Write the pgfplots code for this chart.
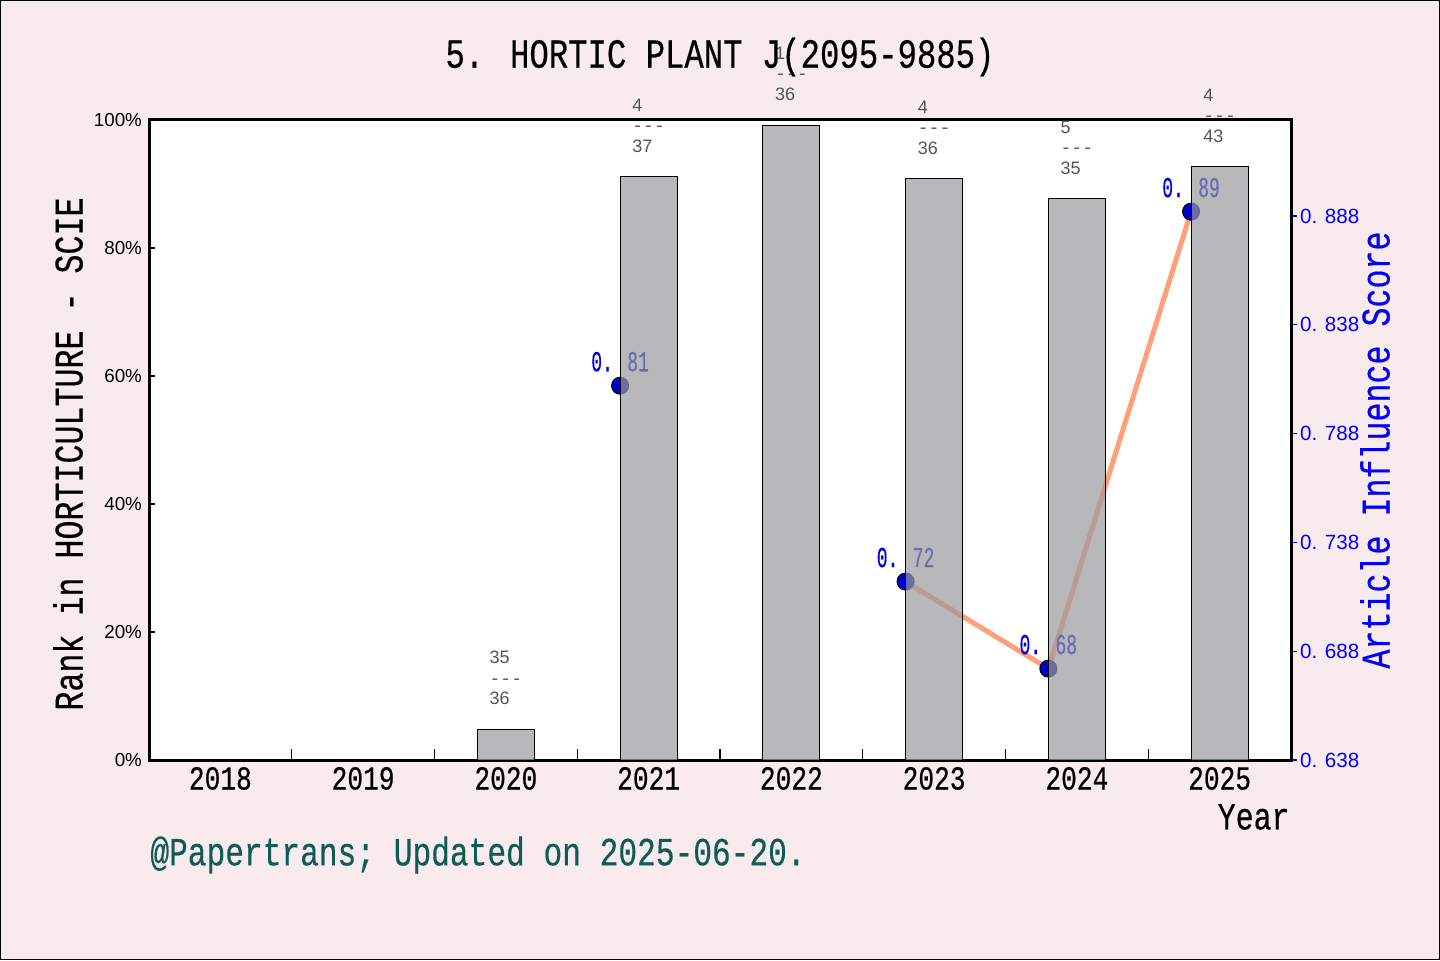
\documentclass[border=0pt]{standalone}
\usepackage{pgfplots}
\pgfplotsset{compat=1.18}
\usepackage{fontspec}
\setmainfont{Liberation Sans}
\newfontfamily\hei[FakeStretch=0.78,FakeBold=0.4]{Liberation Mono}
\newfontfamily\heiN[FakeStretch=0.62,FakeBold=0.3]{Liberation Mono}
\newfontfamily\arial{Liberation Sans}
\newfontfamily\mono{Liberation Mono}
\definecolor{bgpink}{HTML}{F9EAED}
\definecolor{barg}{RGB}{154,155,158}
\definecolor{salmon}{HTML}{FFA07A}
\definecolor{mblue}{HTML}{0000CD}
\definecolor{lblue}{HTML}{0000E6}
\definecolor{teal2}{HTML}{0E5C56}
\definecolor{rkgray}{HTML}{555555}
\protected\def\rk#1#2{{\arial\fontsize{9}{10.25}\selectfont\color{rkgray}\begin{tabular}{@{}l@{}}#1\\{\mono -\kern0pt-\kern0pt-}\\#2\end{tabular}}}
\begin{document}
\begin{tikzpicture}
\useasboundingbox (0,0) rectangle (720pt,480pt);
\fill[bgpink] (0,0) rectangle (720pt,480pt);
\draw[black, line width=0.6pt] (0.3pt,0.3pt) rectangle (719.7pt,479.7pt);
% line axis (behind)
\begin{axis}[
  at={(74.5pt,100pt)}, anchor=south west, scale only axis,
  width=571pt, height=320pt,
  xmin=-0.5, xmax=7.5, ymin=0.638, ymax=0.9321,
  axis background/.style={fill=white},
  axis x line=none, axis y line*=right,
  y axis line style={line width=1.5pt, black},
  ytick={0.638,0.688,0.738,0.788,0.838,0.888},
  yticklabels={0. 638,0. 688,0. 738,0. 788,0. 838,0. 888},
  yticklabel style={font=\arial\fontsize{10.3}{12}\selectfont, text=blue, xshift=-2pt},
  tick align=outside, major tick length=3pt,
  ytick style={blue, line width=0.6pt},
  clip=false,
  unbounded coords=jump,
]
\addplot[color=salmon, line width=2.5pt, mark=*, mark size=4.25pt,
  mark options={fill=mblue, draw=black, line width=0.5pt},
  nodes near coords, point meta=explicit symbolic,
  every node near coord/.append style={anchor=center, yshift=12pt,
    font=\heiN\fontsize{14.5}{16}\selectfont, text=lblue}]
coordinates {(2.8,0.81)[0. 81] (3.8,nan)[] (4.8,0.72)[0. 72] (5.8,0.68)[0. 68] (6.8,0.89)[0. 89]};
\end{axis}
% bar axis (front)
\begin{axis}[
  at={(74.5pt,100pt)}, anchor=south west, scale only axis,
  width=571pt, height=320pt,
  xmin=-0.5, xmax=7.5, ymin=0, ymax=100,
  axis line style={line width=1.5pt, black},
  ytick={0,20,40,60,80,100},
  yticklabels={0\%,20\%,40\%,60\%,80\%,100\%},
  yticklabel style={font=\arial\fontsize{9.4}{11}\selectfont},
  ytick pos=left, xtick pos=bottom,
  xtick={0,...,7},
  xticklabels={2018,2019,2020,2021,2022,2023,2024,2025},
  xticklabel style={font=\hei\fontsize{16.8}{18}\selectfont},
  minor xtick={0.5,1.5,...,6.5},
  every major x tick/.append style={draw=none},
  tick align=inside, major tick length=3pt, minor tick length=5.5pt,
  tick style={black, line width=0.6pt},
  clip=false,
]
\addplot[ybar, bar width=0.4, fill=barg, fill opacity=0.7, draw=black, line width=0.5pt,
  nodes near coords, point meta=explicit symbolic,
  every node near coord/.append style={anchor=south, inner sep=0pt, yshift=9pt, opacity=1, text opacity=1, fill opacity=1}]
coordinates {(2,4.8)[\rk{35}{36}] (3,91.1)[\rk{4}{37}] (4,99.2)[\rk{1}{36}] (5,90.8)[\rk{4}{36}] (6,87.7)[\rk{5}{35}] (7,92.7)[\rk{4}{43}]};
\end{axis}
\node[font=\hei\fontsize{20.7}{22}\selectfont, anchor=center] at (360pt,451.5pt) {5. HORTIC PLANT J(2095-9885)};
\node[font=\hei\fontsize{20.3}{22}\selectfont, rotate=90, anchor=center] at (34pt,253pt) {Rank in HORTICULTURE - SCIE};
\node[font=\hei\fontsize{20.3}{22}\selectfont, rotate=90, anchor=center, text=blue] at (687.5pt,255pt) {Article Influence Score};
\node[font=\hei\fontsize{19.2}{21}\selectfont, anchor=east, inner sep=0pt] at (645pt,71.5pt) {Year};
\node[font=\hei\fontsize{20}{22}\selectfont, anchor=west, text=teal2, inner sep=0pt] at (75pt,52.5pt) {@Papertrans; Updated on 2025-06-20.};
\end{tikzpicture}
\end{document}
